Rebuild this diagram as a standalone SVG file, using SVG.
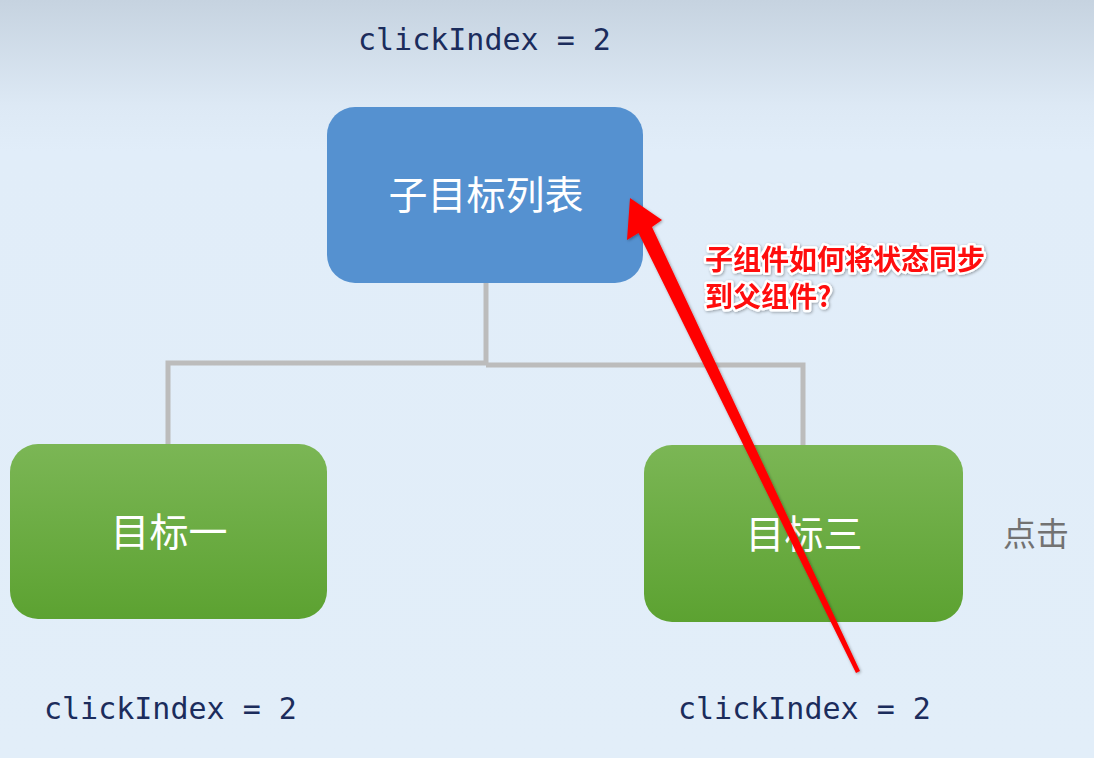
<svg xmlns="http://www.w3.org/2000/svg" width="1094" height="758" viewBox="0 0 1094 758">
<defs>
<linearGradient id="bg" x1="0" y1="0" x2="0" y2="1">
<stop offset="0" stop-color="#c6d3e0"/>
<stop offset="0.14" stop-color="#dde9f5"/>
<stop offset="0.2" stop-color="#e1edf9"/>
<stop offset="1" stop-color="#e2eef9"/>
</linearGradient>
<linearGradient id="green" x1="0" y1="0" x2="0" y2="1">
<stop offset="0" stop-color="#7bb655"/>
<stop offset="1" stop-color="#5ca231"/>
</linearGradient>
<filter id="sh" x="-20%" y="-20%" width="140%" height="140%">
<feDropShadow dx="1" dy="1" stdDeviation="1.5" flood-color="#000" flood-opacity="0.35"/>
</filter>
</defs>
<style>
.code{font-family:"DejaVu Sans Mono","Liberation Mono",monospace;font-size:30px;fill:#1b2c5c}
.node-text{font-family:"Noto Sans CJK SC","Noto Sans",sans-serif;font-size:39px;fill:#ffffff;text-anchor:middle}
.conn{fill:none;stroke:#bcbcbc;stroke-width:5}
.note{font-family:"Noto Sans CJK SC",sans-serif;font-size:28px;font-weight:bold;fill:#ff0a0a;stroke:#ffffff;stroke-width:5;stroke-linejoin:round;paint-order:stroke}
</style>
<rect x="0" y="0" width="1094" height="758" fill="url(#bg)"/>
<text class="code" x="358" y="50">clickIndex = 2</text>
<g id="connectors">
<path class="conn" d="M486 283 V365"/>
<path class="conn" d="M168 444 V363 H486"/>
<path class="conn" d="M486 365 H803 V445"/>
</g>
<g id="node-list">
<rect x="327" y="107" width="316" height="176" rx="28" fill="#5591d0"/>
<text class="node-text" x="486" y="209">子目标列表</text>
</g>
<g id="node-one">
<rect x="10" y="444" width="317" height="175" rx="28" fill="url(#green)"/>
<text class="node-text" x="169" y="546">目标一</text>
</g>
<g id="node-three">
<rect x="644" y="445" width="319" height="177" rx="28" fill="url(#green)"/>
<text class="node-text" x="804" y="548">目标三</text>
</g>
<text x="1003" y="546" font-family="Noto Sans CJK SC,sans-serif" font-size="33" fill="#727272">点击</text>
<text class="code" x="44" y="719">clickIndex = 2</text>
<text class="code" x="678" y="719">clickIndex = 2</text>
<g id="red-arrow" filter="url(#sh)">
<polygon points="630,198 662,220 652,227 860,671 856,673 638.5,233 627,240" fill="#ff0000"/>
</g>
<g id="note" filter="url(#sh)">
<text class="note" x="705" y="270">子组件如何将状态同步</text>
<text class="note" x="705" y="307">到父组件?</text>
</g>
</svg>
